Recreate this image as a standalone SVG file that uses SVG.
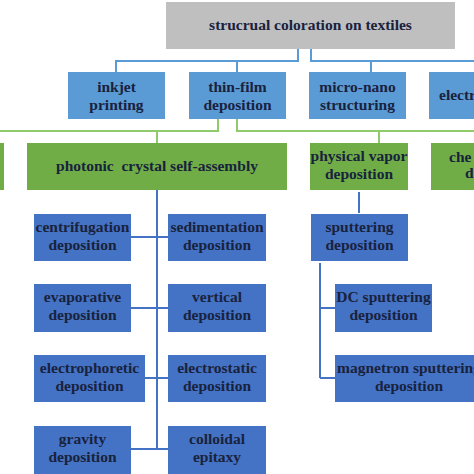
<svg xmlns="http://www.w3.org/2000/svg" width="474" height="474" viewBox="0 0 474 474">
<style>
text{font-family:"Liberation Serif","Times New Roman",serif;font-weight:bold;font-size:15.5px;fill:#19223d;text-anchor:middle}
.s{text-anchor:start}
.pre{white-space:pre}
.root{fill:#bfbfbf}
.l2{fill:#5b9bd5}
.l3{fill:#70ad47}
.l4{fill:#4472c4}
.cb{fill:none;stroke:#5b9bd5;stroke-width:2}
.cg{fill:none;stroke:#8fca6b;stroke-width:2}
.cd{fill:none;stroke:#4472c4;stroke-width:2}
</style>
<rect width="474" height="474" fill="#ffffff"/>
<g id="connectors">
<path class="cb" d="M298,49V61H116V72M237,61V72M311,49V61H474M371,61V72"/>
<path class="cg" d="M218,119V131H0M157,131V143M237,119V131H474M379,131V143"/>
<path class="cd" d="M157,190V449M131,237H168M131,308H168M145,378H168M131,449H168"/>
<path class="cd" d="M359,192V213M320,263V378M320,308H335M320,378H335"/>
</g>
<g id="root"><rect class="root" x="166" y="2" width="289" height="47"/><text x="310.5" y="30">strucrual coloration on textiles</text></g>
<g id="inkjet"><rect class="l2" x="68" y="72" width="97" height="47"/><text x="116.5" y="92">inkjet</text><text x="116.5" y="110">printing</text></g>
<g id="thinfilm"><rect class="l2" x="189" y="72" width="97" height="47"/><text x="237.5" y="92">thin-film</text><text x="237.5" y="110">deposition</text></g>
<g id="micronano"><rect class="l2" x="309" y="72" width="97" height="47"/><text x="357.5" y="92">micro-nano</text><text x="357.5" y="110">structuring</text></g>
<g id="electr"><rect class="l2" x="429" y="72" width="97" height="47"/><text class="s" x="439" y="100">electr</text></g>
<g id="leftgreen"><rect class="l3" x="-93" y="143" width="97" height="47"/></g>
<g id="photonic"><rect class="l3" x="27" y="143" width="260" height="47"/><text class="pre" x="157" y="171">photonic  crystal self-assembly</text></g>
<g id="pvd"><rect class="l3" x="310" y="143" width="98" height="47"/><text x="359" y="161">physical vapor</text><text x="359" y="179">deposition</text></g>
<g id="cvd"><rect class="l3" x="431" y="143" width="97" height="47"/><text class="s" x="449" y="162">che</text><text class="s" x="465" y="178">d</text></g>
<g id="centrifugation"><rect class="l4" x="34" y="214" width="97" height="47"/><text x="82.5" y="232">centrifugation</text><text x="82.5" y="250">deposition</text></g>
<g id="sedimentation"><rect class="l4" x="168" y="214" width="98" height="47"/><text x="217" y="232">sedimentation</text><text x="217" y="250">deposition</text></g>
<g id="evaporative"><rect class="l4" x="34" y="284" width="97" height="48"/><text x="82.5" y="302">evaporative</text><text x="82.5" y="320">deposition</text></g>
<g id="vertical"><rect class="l4" x="168" y="284" width="98" height="48"/><text x="217" y="302">vertical</text><text x="217" y="320">deposition</text></g>
<g id="electrophoretic"><rect class="l4" x="34" y="355" width="111" height="47"/><text x="89.5" y="373">electrophoretic</text><text x="89.5" y="391">deposition</text></g>
<g id="electrostatic"><rect class="l4" x="168" y="355" width="98" height="47"/><text x="217" y="373">electrostatic</text><text x="217" y="391">deposition</text></g>
<g id="gravity"><rect class="l4" x="34" y="426" width="97" height="48"/><text x="82.5" y="444">gravity</text><text x="82.5" y="462">deposition</text></g>
<g id="colloidal"><rect class="l4" x="168" y="426" width="98" height="48"/><text x="217" y="444">colloidal</text><text x="217" y="462">epitaxy</text></g>
<g id="sputtering"><rect class="l4" x="311" y="214" width="97" height="47"/><text x="359.5" y="232">sputtering</text><text x="359.5" y="250">deposition</text></g>
<g id="dc"><rect class="l4" x="335" y="284" width="97" height="48"/><text x="383.5" y="302">DC sputtering</text><text x="383.5" y="320">deposition</text></g>
<g id="magnetron"><rect class="l4" x="335" y="355" width="148" height="47"/><text x="409" y="373">magnetron sputtering</text><text x="409" y="391">deposition</text></g>
</svg>
